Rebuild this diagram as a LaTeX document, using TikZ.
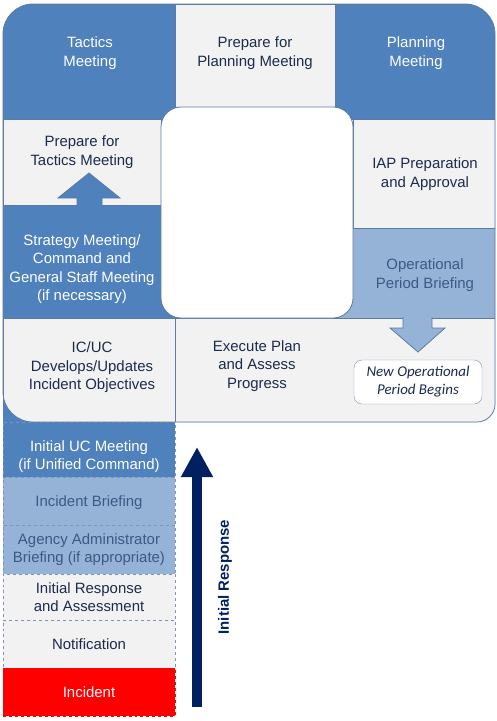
\documentclass[tikz,border=0pt]{standalone}
\usepackage{fontspec}
\setmainfont{Liberation Sans}
\newfontfamily\carlito{Carlito}
\usepackage{tikz}
\usetikzlibrary{positioning}
\usetikzlibrary{arrows.meta}
\definecolor{darkblue}{HTML}{4F81BD}
\definecolor{lightblue}{HTML}{95B3D7}
\definecolor{lightgray}{HTML}{F2F2F2}
\definecolor{lineblue}{HTML}{5C7AA3}
\definecolor{dashgray}{HTML}{7F93B2}
\definecolor{txtnavy}{HTML}{1B2B4B}
\definecolor{txtmuted}{HTML}{3A5A86}
\definecolor{navyarrow}{HTML}{002060}
\tikzstyle{txt} = [align=center, inner sep=0pt, font=\fontsize{15}{18.5}\selectfont]
\tikzstyle{darktxt} = [txt, text=white]
\tikzstyle{lighttxt} = [txt, text=txtnavy]
\tikzstyle{mutedtxt} = [txt, text=txtmuted]
\tikzstyle{cellbox} = [draw=lineblue, line width=0.8bp]
\tikzstyle{stage} = [draw=dashgray, dashed, line width=0.8bp, minimum width=172bp, inner sep=0pt, outer sep=0pt, align=center, font=\fontsize{15}{18.5}\selectfont]
\tikzstyle{newbox} = [draw=dashgray, fill=white, rounded corners=8bp, minimum width=128bp, minimum height=44bp, align=center, inner sep=0pt, text=txtnavy, font=\carlito\itshape\fontsize{15}{18}\selectfont]
\tikzstyle{irarrow} = [draw=navyarrow, line width=10bp, -{Triangle[width=30bp,length=30bp]}]

\begin{document}
\begin{tikzpicture}[x=1bp, y=-1bp, node distance=0pt]
    \useasboundingbox (0,0) rectangle (497,721);

    % initial response stack
    \node [stage, fill=darkblue, text=white, minimum height=55bp, text height=43bp, anchor=north] (ucmeet) at (89,422) {Initial UC Meeting\\(if Unified Command)};
    \node [stage, fill=lightblue, text=txtmuted, minimum height=48bp, text height=14bp, below=of ucmeet] (incbrief) {Incident Briefing};
    \node [stage, fill=lightblue, text=txtmuted, minimum height=49bp, below=of incbrief] (agencybrief) {Agency Administrator\\Briefing (if appropriate)};
    \node [stage, fill=lightgray, text=txtnavy, minimum height=46bp, below=of agencybrief] (initresp) {Initial Response\\and Assessment};
    \node [stage, fill=lightgray, text=txtnavy, minimum height=48bp, below=of initresp] (notif) {Notification};
    \node [stage, fill=red, draw=red, text=white, minimum height=48bp, below=of notif] (incident) {Incident};
    \fill [darkblue] (3,395) rectangle (175,422);

    % planning cycle
    \begin{scope}
        \clip [rounded corners=30bp] (3,200) -- (3,4) -- (495,4) -- (495,200) [rounded corners=18bp] -- (495,422) -- (250,422) [rounded corners=30bp] -- (3,422) -- cycle;
        \filldraw [cellbox, fill=darkblue] (3,4) rectangle (175,119);
        \filldraw [cellbox, fill=lightgray] (175,4) rectangle (335,107);
        \filldraw [cellbox, fill=darkblue] (335,4) rectangle (495,119);
        \filldraw [cellbox, fill=lightgray] (3,119) rectangle (161,205);
        \filldraw [cellbox, fill=darkblue] (3,205) rectangle (175,318);
        \filldraw [cellbox, fill=lightgray] (353,119) rectangle (495,228);
        \filldraw [cellbox, fill=lightblue] (335,228) rectangle (495,318);
        \filldraw [cellbox, fill=lightgray] (3,318) rectangle (175,422);
        \filldraw [cellbox, fill=lightgray] (175,318) rectangle (495,422);
    \end{scope}
    \draw [cellbox] (3,200) [rounded corners=30bp] -- (3,4) -- (495,4) -- (495,200) [rounded corners=18bp] -- (495,422) -- (250,422) [rounded corners=30bp] -- (3,422) -- cycle;
    \filldraw [cellbox, fill=white, rounded corners=20bp] (161,107) rectangle (353,318);

    \filldraw [cellbox, fill=darkblue] (77,206) -- (77,198) -- (58,198) -- (89,173) -- (120,198) -- (102,198) -- (102,206);
    \filldraw [cellbox, fill=lightblue] (403,317) -- (403,328) -- (390,328) -- (418,352) -- (445,328) -- (432,328) -- (432,317);

    \node [darktxt] (tactics) at (90,53) {Tactics\\Meeting};
    \node [lighttxt] (prepplan) at (255,53) {Prepare for\\Planning Meeting};
    \node [darktxt] (planning) at (416,53) {Planning\\Meeting};
    \node [lighttxt] (preptactics) at (82,152) {Prepare for\\Tactics Meeting};
    \node [lighttxt] (iap) at (425,174) {IAP Preparation\\and Approval};
    \node [darktxt] (strategy) at (82,269) {Strategy Meeting/\\Command and\\General Staff Meeting\\(if necessary)};
    \node [mutedtxt] (opbrief) at (425,275) {Operational\\Period Briefing};
    \node [lighttxt] (icuc) at (92,367.5) {IC/UC\\Develops/Updates\\Incident Objectives};
    \node [lighttxt] (execute) at (257,366) {Execute Plan\\and Assess\\Progress};
    \node [newbox] (newop) at (418,382) {New Operational\\Period Begins};

    \coordinate (irbase) at (197,707);
    \coordinate (irtip) at (197,447);
    \draw [irarrow] (irbase) -- (irtip);
    \node [txt, rotate=90, text=navyarrow, font=\bfseries\fontsize{15}{18}\selectfont] (irlabel) at (225,577) {Initial Response};
\end{tikzpicture}
\end{document}
